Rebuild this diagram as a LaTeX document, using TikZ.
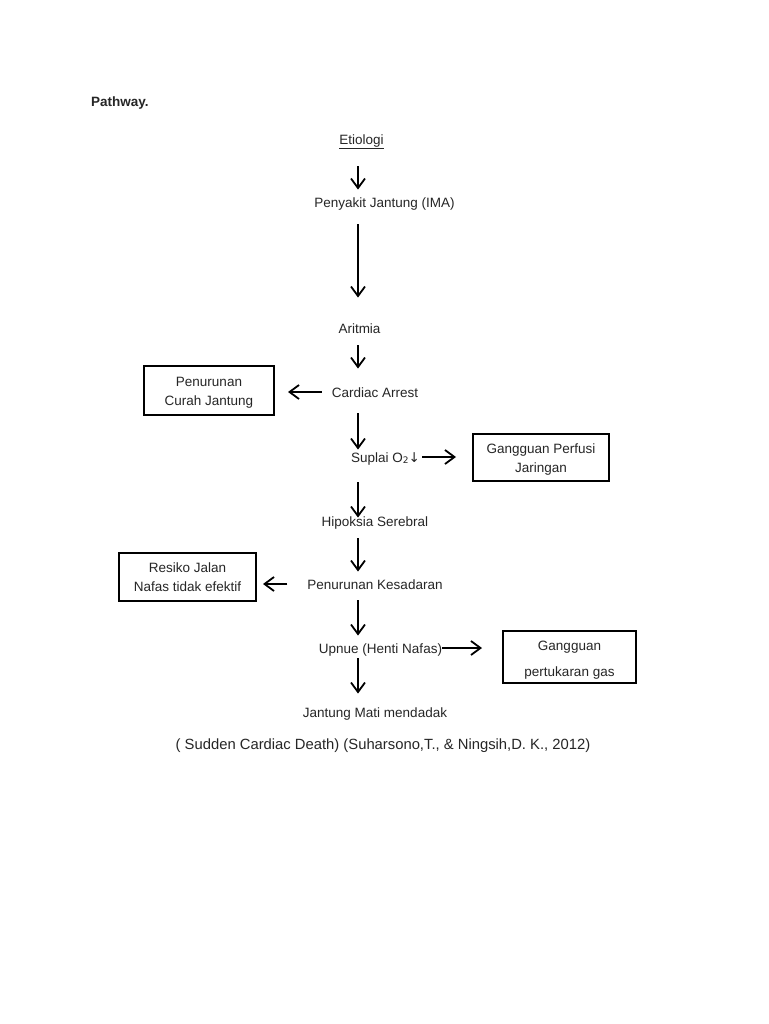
\documentclass[tikz,border=0pt]{standalone}
\usepackage{fontspec}
\setmainfont{Liberation Sans}
\newfontfamily\symfont{DejaVu Sans}
\usetikzlibrary{arrows.meta}
\newcommand\lowtext[1]{\raisebox{-1.5pt}[\height][\depth]{\begin{tabular}{@{}c@{}}#1\end{tabular}}}
\begin{document}
\begin{tikzpicture}[x=1pt,y=-1pt,
 lbl/.style={inner sep=0pt,text=black!85,font=\fontsize{13.5}{16}\selectfont,text height=11.7pt,text depth=0.8pt},
 box/.style={draw,line width=2pt,inner sep=0pt,align=center,text=black!85,font=\fontsize{13.5}{19}\selectfont},
 arr/.style={line width=1.8pt,-{Straight Barb[length=9.5pt,width=14pt]}}
]
\fill[white] (0,0) rectangle (768,1024);
\path[use as bounding box] (0,0) rectangle (768,1024);
\coordinate (spine) at (358,0);

\node[lbl,anchor=west,font=\fontsize{13.5}{16}\selectfont\bfseries] (title) at (91,101) {Pathway.};
\node[lbl] (etio) at (361.5,139) {\underline{Etiologi}};
\node[lbl] (peny) at (384.5,202) {Penyakit Jantung (IMA)};
\node[lbl] (arit) at (359.5,328) {Aritmia};
\node[lbl] (card) at (375,392) {Cardiac Arrest};
\node[lbl] (supl) at (385.5,457) {Suplai O{\symfont\fontsize{9}{10}\selectfont\raisebox{-1.5pt}{2}}{\symfont↓}};
\node[lbl] (hipo) at (375,521) {Hipoksia Serebral};
\node[lbl] (kesa) at (375,584) {Penurunan Kesadaran};
\node[lbl] (upnu) at (380.5,648) {Upnue (Henti Nafas)};
\node[lbl] (mati) at (375,712) {Jantung Mati mendadak};
\node[lbl,font=\fontsize{14.8}{17}\selectfont] (cite) at (383,744) {( Sudden Cardiac Death) (Suharsono,T., \& Ningsih,D. K., 2012)};

\node[box,minimum width=130pt,minimum height=49pt] (b1) at (209,390.5) {\lowtext{Penurunan\\Curah Jantung}};
\node[box,minimum width=136pt,minimum height=47pt] (b2) at (541,457.5) {\lowtext{Gangguan Perfusi\\Jaringan}};
\node[box,minimum width=137pt,minimum height=48pt] (b3) at (187.5,577) {\lowtext{Resiko Jalan\\Nafas tidak efektif}};
\node[box,minimum width=133pt,minimum height=52pt,font=\fontsize{13.5}{26}\selectfont] (b4) at (569.5,657) {\lowtext{Gangguan\\pertukaran gas}};

\draw[arr,shorten <=21pt,shorten >=6pt] (etio.south -| spine) -- (peny.north -| spine);
\draw[arr,shorten <=16pt,shorten >=24pt] (peny.south -| spine) -- (arit.north -| spine);
\draw[arr,shorten <=11pt,shorten >=17pt] (arit.south -| spine) -- (card.north -| spine);
\draw[arr,shorten <=15pt,shorten >=1pt] (card.south -| spine) -- (supl.north -| spine);
\draw[arr,shorten <=19pt,shorten >=-3pt] (supl.south -| spine) -- (hipo.north -| spine);
\draw[arr,shorten <=11pt,shorten >=6pt] (hipo.south -| spine) -- (kesa.north -| spine);
\draw[arr,shorten <=10pt,shorten >=6pt] (kesa.south -| spine) -- (upnu.north -| spine);
\draw[arr,shorten <=4pt,shorten >=12pt] (upnu.south -| spine) -- (mati.north -| spine);

\draw[arr,shorten <=10pt,shorten >=13pt] (card.west) -- (card.west -| b1.east);
\draw[arr,shorten <=2pt,shorten >=16pt] (supl.east) -- (supl.east -| b2.west);
\draw[arr,shorten <=20pt,shorten >=6pt] (kesa.west) -- (kesa.west -| b3.east);
\draw[arr,shorten <=0pt,shorten >=20pt] (upnu.east) -- (upnu.east -| b4.west);
\end{tikzpicture}
\end{document}
